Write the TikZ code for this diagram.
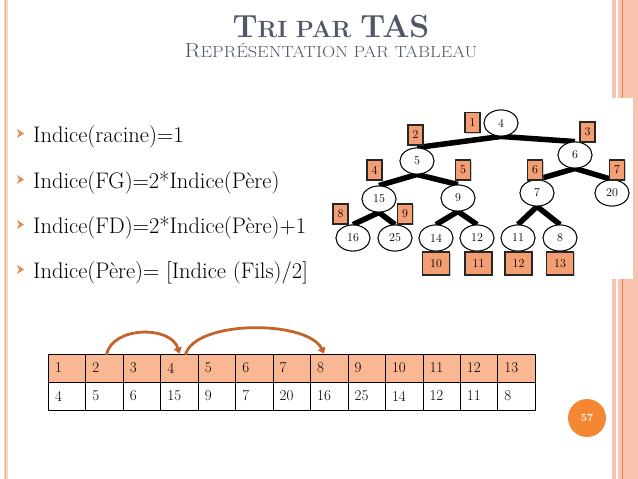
\documentclass[tikz,border=0pt]{standalone}
\usetikzlibrary{arrows.meta,shadows,shapes.geometric,calc}
\definecolor{titlec}{RGB}{78,88,104}
\definecolor{boxc}{RGB}{244,158,116}
\definecolor{cellc}{RGB}{250,183,148}
\definecolor{arrc}{RGB}{196,100,45}
\definecolor{pinkc}{RGB}{248,196,176}
\definecolor{orlc}{RGB}{234,128,80}
\definecolor{numc}{RGB}{244,134,52}
\definecolor{bulc}{RGB}{226,140,80}
\begin{document}
\begin{tikzpicture}[x=1pt,y=-1pt,
  nd/.style={draw=black,line width=0.9pt,fill=white,ellipse,minimum width=34pt,minimum height=26pt,inner sep=0pt,font=\fontsize{12}{12}\selectfont},
  ix/.style={draw=black!85,line width=1.2pt,fill=boxc,minimum width=15pt,minimum height=20pt,inner sep=0pt,font=\fontsize{12}{12}\selectfont,drop shadow={shadow xshift=1pt,shadow yshift=-1pt,opacity=0.4}},
  ixw/.style={ix,minimum width=27pt,minimum height=23pt},
  ed/.style={line width=5.5pt,black},
  cell/.style={draw=black,line width=0.6pt,minimum width=37.45pt,minimum height=28pt,inner sep=0pt,text width=24pt,align=left,font=\fontsize{15}{15}\selectfont},
  txt/.style={anchor=base west,inner sep=0pt,font=\fontsize{22.5}{23}\selectfont},
  bul/.style={fill=bulc},
  arr/.style={arrc,line width=2.8pt,-{Triangle[length=6pt,width=8pt]}}
]
\useasboundingbox (0,0) rectangle (638,479);
\fill[white] (0,0) rectangle (638,479);
% borders
\fill[pinkc!70] (3.5,0) rectangle (7.5,479);
\draw[pinkc!140,line width=0.8pt] (5.5,0) -- (5.5,479);
\fill[pinkc] (612,0) rectangle (616,479);
\fill[pinkc] (618,0) rectangle (638,479);
\draw[orlc,line width=0.8pt] (622.5,0) -- (622.5,479);
% title
\node[anchor=base,inner sep=0pt,text=titlec] (title) at (331,37) {\bfseries\fontsize{32}{32}\selectfont T\fontsize{23.5}{24}\selectfont RI PAR \fontsize{32}{32}\selectfont TAS};
\node[anchor=base,inner sep=0pt,text=titlec] (sub) at (331,57) {\scalebox{1.15}[1]{\fontsize{20.5}{20}\selectfont R\fontsize{16}{16}\selectfont EPRÉSENTATION PAR TABLEAU}};
% bullets
\foreach \yy in {142,188,233,278}{
  \fill[bul] (17,\yy-13) -- (24,\yy-8.5) -- (17,\yy-4) -- (19,\yy-8.5) -- cycle;
}
\node[txt] (t1) at (33,142) {Indice(racine)=1};
\node[txt] (t2) at (33,188) {Indice(FG)=2*Indice(Père)};
\node[txt] (t3) at (33,233) {Indice(FD)=2*Indice(Père)+1};
\node[txt] (t4) at (33,278) {Indice(Père)= [Indice (Fils)/2]};
% tree background
\fill[white] (333,98) rectangle (633,279);
% tree nodes
\node[nd] (n4) at (501,123) {4};
\node[nd] (n5) at (417,161) {5};
\node[nd] (n6) at (575,155) {6};
\node[nd] (n15) at (379,199) {15};
\node[nd] (n9) at (458,198) {9};
\node[nd] (n7) at (537,193) {7};
\node[nd] (n20) at (612,193) {20};
\node[nd] (n16) at (353,238) {16};
\node[nd] (n25) at (395,238) {25};
\node[nd] (n14) at (436,238) {14};
\node[nd] (n12) at (477,238) {12};
\node[nd] (n11) at (518,238) {11};
\node[nd] (n8) at (560,238) {8};
\foreach \a/\b in {n4/n5,n4/n6,n5/n15,n5/n9,n6/n7,n6/n20,n15/n16,n15/n25,n9/n14,n9/n12,n7/n11,n7/n8}{
  \draw[ed] (\a.south) -- (\b.north);
}
% redraw ellipses over the edges
\foreach \n/\p/\t in {m4/{501,123}/4,m5/{417,161}/5,m6/{575,155}/6,m15/{379,199}/15,m9/{458,198}/9,m7/{537,193}/7,m20/{612,193}/20,m16/{353,238}/16,m25/{395,238}/25,m14/{436,238}/14,m12/{477,238}/12,m11/{518,238}/11,m8/{560,238}/8}{
  \node[nd] (\n) at (\p) {\t};
}
% index boxes
\node[ix] (i1) at (472.5,122.5) {1};
\node[ix] (i2) at (415.5,135) {2};
\node[ix] (i3) at (587.5,132) {3};
\node[ix] (i4) at (374.5,170) {4};
\node[ix] (i5) at (463,170) {5};
\node[ix] (i6) at (535,170) {6};
\node[ix] (i7) at (617,170) {7};
\node[ix] (i8) at (340.5,214) {8};
\node[ix] (i9) at (405,214) {9};
\node[ixw] (i10) at (436,263.5) {10};
\node[ixw] (i11) at (478.5,263.5) {11};
\node[ixw] (i12) at (518.5,263.5) {12};
\node[ixw] (i13) at (560,263.5) {13};
% table
\foreach \k/\v [evaluate=\k as \xx using 48.3+(\k-0.5)*37.45] in {1/4,2/5,3/6,4/15,5/9,6/7,7/20,8/16,9/25,10/14,11/12,12/11,13/8}{
  \node[cell,fill=cellc] (c\k) at (\xx,368) {\k};
  \node[cell] (v\k) at (\xx,396) {\v};
}
% arrows
\draw[arr] ($(c2.north)+(2,1)$) .. controls ($(c2.north)+(8,-28)$) and ($(c4.north)+(-8,-28)$) .. (c4.north);
\draw[arr] ($(c4.north)+(6,1)$) .. controls ($(c4.north)+(16,-34)$) and ($(c8.north)+(-22,-34)$) .. ($(c8.north)+(-5,0)$);
% page number
\node[circle,fill=numc,minimum size=38pt,inner sep=0pt,text=white,font=\bfseries\fontsize{11}{11}\selectfont] (pg) at (587,418) {57};
\end{tikzpicture}
\end{document}
